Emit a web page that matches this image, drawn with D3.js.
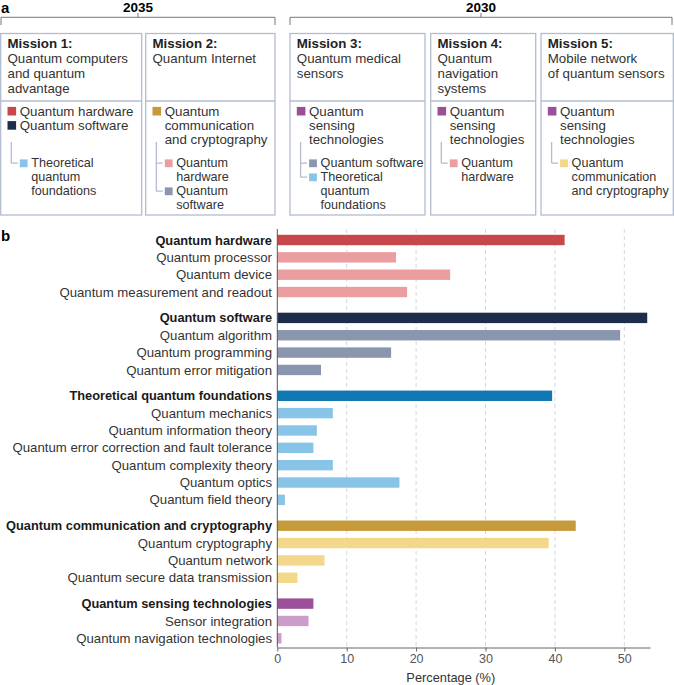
<!DOCTYPE html>
<html>
<head>
<meta charset="utf-8">
<script src="https://cdn.jsdelivr.net/npm/d3@7"></script>
<style>
  body { margin: 0; background: #fff; }
  svg { display: block; font-family: "Liberation Sans", Arial, sans-serif; }
  .box { fill: none; stroke: #b3bccf; stroke-width: 1.3; }
  .tree { fill: none; stroke: #b3bccf; stroke-width: 1.3; }
  .bracket { fill: none; stroke: #777; stroke-width: 1; }
  .grid { stroke: #d3d7df; stroke-dasharray: 4,3; }
</style>
</head>
<body>
<svg id="chart"></svg>
<script>
// ---- panel b data ----
const groups = ["Quantum hardware", "Quantum software", "Theoretical quantum foundations",
  "Quantum communication and cryptography", "Quantum sensing technologies"];
const groupValues = [41.4, 53.3, 39.6, 43.0, 5.2];
const subLabels = [
  ["Quantum processor", "Quantum device", "Quantum measurement and readout"],
  ["Quantum algorithm", "Quantum programming", "Quantum error mitigation"],
  ["Quantum mechanics", "Quantum information theory", "Quantum error correction and fault tolerance",
    "Quantum complexity theory", "Quantum optics", "Quantum field theory"],
  ["Quantum cryptography", "Quantum network", "Quantum secure data transmission"],
  ["Sensor integration", "Quantum navigation technologies"]
];
const subValues = [
  [17.1, 24.9, 18.7],
  [49.4, 16.4, 6.3],
  [8.0, 5.7, 5.2, 8.0, 17.6, 1.1],
  [39.1, 6.8, 2.9],
  [4.5, 0.6]
];
const mainColors = ["#c8474b", "#1d2e4a", "#0f77b2", "#c69a3a", "#9b4f98"];
const subColors = ["#eb9e9f", "#8a96ad", "#88c4e8", "#f3d78a", "#cb9ec9"];
const xTicks = [0, 10, 20, 30, 40, 50];

// ---- panel a data ----
const periods = ["2035", "2030"];
const missionTitles = ["Mission 1:", "Mission 2:", "Mission 3:", "Mission 4:", "Mission 5:"];
const missionDesc = [
  ["Quantum computers", "and quantum", "advantage"],
  ["Quantum Internet"],
  ["Quantum medical", "sensors"],
  ["Quantum", "navigation", "systems"],
  ["Mobile network", "of quantum sensors"]
];
const missionPrimary = [
  [["Quantum hardware"], ["Quantum software"]],
  [["Quantum", "communication", "and cryptography"]],
  [["Quantum", "sensing", "technologies"]],
  [["Quantum", "sensing", "technologies"]],
  [["Quantum", "sensing", "technologies"]]
];
const missionPrimaryColor = [[0, 1], [3], [4], [4], [4]];
const missionSecondary = [
  [["Theoretical", "quantum", "foundations"]],
  [["Quantum", "hardware"], ["Quantum", "software"]],
  [["Quantum software"], ["Theoretical", "quantum", "foundations"]],
  [["Quantum", "hardware"]],
  [["Quantum", "communication", "and cryptography"]]
];
const missionSecondaryColor = [[2], [0, 1], [1, 2], [0], [3]];

const W = 674, H = 685;
const svg = d3.select("#chart").attr("width", W).attr("height", H);

// ---------- panel a ----------
const boxX = [[0.7, 141.7], [145.7, 275], [290, 425], [430.7, 535.7], [541, 673.3]];
const bracketX = [[1, 275], [290, 672]];
const boxTop = 33.5, boxMid = 101, boxBottom = 215;

svg.append("text").attr("x", 1).attr("y", 13).attr("font-size", 15).attr("font-weight", 700).text("a");

periods.forEach((p, k) => {
  const [a, b] = bracketX[k];
  const c = (a + b) / 2;
  svg.append("path").attr("class", "bracket")
    .attr("d", `M${a},25V17.3H${b}V25M${c},17.3V13`);
  svg.append("text").attr("x", c).attr("y", 12).attr("text-anchor", "middle")
    .attr("font-size", 13.5).attr("font-weight", 700).text(p);
});

missionTitles.forEach((t, m) => {
  const [x0, x1] = boxX[m];
  const g = svg.append("g");
  g.append("rect").attr("class", "box").attr("x", x0).attr("y", boxTop)
    .attr("width", x1 - x0).attr("height", boxBottom - boxTop);
  g.append("line").attr("class", "box").attr("x1", x0).attr("x2", x1)
    .attr("y1", boxMid).attr("y2", boxMid);

  const L = x0 + 6.8;
  g.append("text").attr("x", L).attr("y", 48).attr("font-size", 13.3)
    .attr("font-weight", 700).attr("fill", "#222").text(t);
  missionDesc[m].forEach((line, j) => {
    g.append("text").attr("x", L).attr("y", 63 + j * 15).attr("font-size", 13.3)
      .attr("fill", "#333").text(line);
  });

  // primary topics
  let yb = 115.5;
  missionPrimary[m].forEach((lines, k) => {
    g.append("rect").attr("x", L).attr("y", yb - 8.6).attr("width", 8.6).attr("height", 8.6)
      .attr("fill", mainColors[missionPrimaryColor[m][k]]);
    lines.forEach((line, j) => {
      g.append("text").attr("x", L + 12.2).attr("y", yb + j * 14.2).attr("font-size", 13.3)
        .attr("fill", "#333").text(line);
    });
    yb += lines.length * 14.2;
  });

  // secondary topics with tree connector
  let ys = 167;
  const ticks = [];
  missionSecondary[m].forEach((lines, k) => {
    ticks.push(ys - 3.8);
    g.append("rect").attr("x", L + 12.3).attr("y", ys - 7.6).attr("width", 7.8).attr("height", 7.8)
      .attr("fill", subColors[missionSecondaryColor[m][k]]);
    lines.forEach((line, j) => {
      g.append("text").attr("x", L + 23.8).attr("y", ys + j * 14).attr("font-size", 12.6)
        .attr("fill", "#333").text(line);
    });
    ys += lines.length * 14;
  });
  const tx = L + 3.8;
  let d = `M${tx},142V${ticks[ticks.length - 1]}`;
  ticks.forEach(ty => { d += `M${tx},${ty}H${L + 10.3}`; });
  g.append("path").attr("class", "tree").attr("d", d);
});

// ---------- panel b ----------
svg.append("text").attr("x", 1).attr("y", 241).attr("font-size", 15).attr("font-weight", 700).text("b");

const rows = [];
let idx = 0;
groups.forEach((name, g) => {
  rows.push({ label: name, value: groupValues[g], main: true, g, slot: idx + g * 0.49 });
  idx++;
  subLabels[g].forEach((s, j) => {
    rows.push({ label: s, value: subValues[g][j], main: false, g, slot: idx + g * 0.49 });
    idx++;
  });
});

const x = d3.scaleLinear().domain([0, 53.7]).range([277.3, 650]);
const y = d3.scaleLinear().domain([0, d3.max(rows, r => r.slot)]).range([240, 638.3]);
const yTop = 229, yAxis = 647.5, barH = 10.4;

svg.append("g").selectAll("line")
  .data(xTicks.filter(t => t > 0))
  .enter().append("line").attr("class", "grid")
  .attr("x1", d => x(d)).attr("x2", d => x(d))
  .attr("y1", yTop).attr("y2", yAxis);

svg.append("g").selectAll("rect")
  .data(rows)
  .enter().append("rect")
  .attr("x", x(0))
  .attr("y", d => y(d.slot) - barH / 2)
  .attr("width", d => x(d.value) - x(0))
  .attr("height", barH)
  .attr("fill", d => d.main ? mainColors[d.g] : subColors[d.g]);

svg.append("g").selectAll("text")
  .data(rows)
  .enter().append("text")
  .attr("x", 272)
  .attr("y", d => y(d.slot) + 4.6)
  .attr("text-anchor", "end")
  .attr("font-size", d => d.main ? 12.8 : 13.2)
  .attr("font-weight", d => d.main ? 700 : 400)
  .attr("fill", d => d.main ? "#1a1a1a" : "#333")
  .text(d => d.label);

svg.append("line").attr("x1", x(0)).attr("x2", x(0)).attr("y1", yTop).attr("y2", yAxis)
  .attr("stroke", "#555").attr("stroke-width", 1);

const xAxis = svg.append("g").attr("transform", `translate(0,${yAxis})`)
  .call(d3.axisBottom(x).tickValues(xTicks).tickSize(4).tickSizeOuter(0).tickPadding(3));
xAxis.select(".domain").attr("stroke", "#666");
xAxis.selectAll(".tick line").attr("stroke", "#666");
xAxis.selectAll(".tick text").attr("font-size", 12.5).attr("fill", "#555")
  .attr("font-family", "Liberation Sans, Arial, sans-serif");

svg.append("text").attr("x", x(25)).attr("y", 681.5).attr("text-anchor", "middle")
  .attr("font-size", 12.8).attr("fill", "#333").text("Percentage (%)");
</script>
</body>
</html>
